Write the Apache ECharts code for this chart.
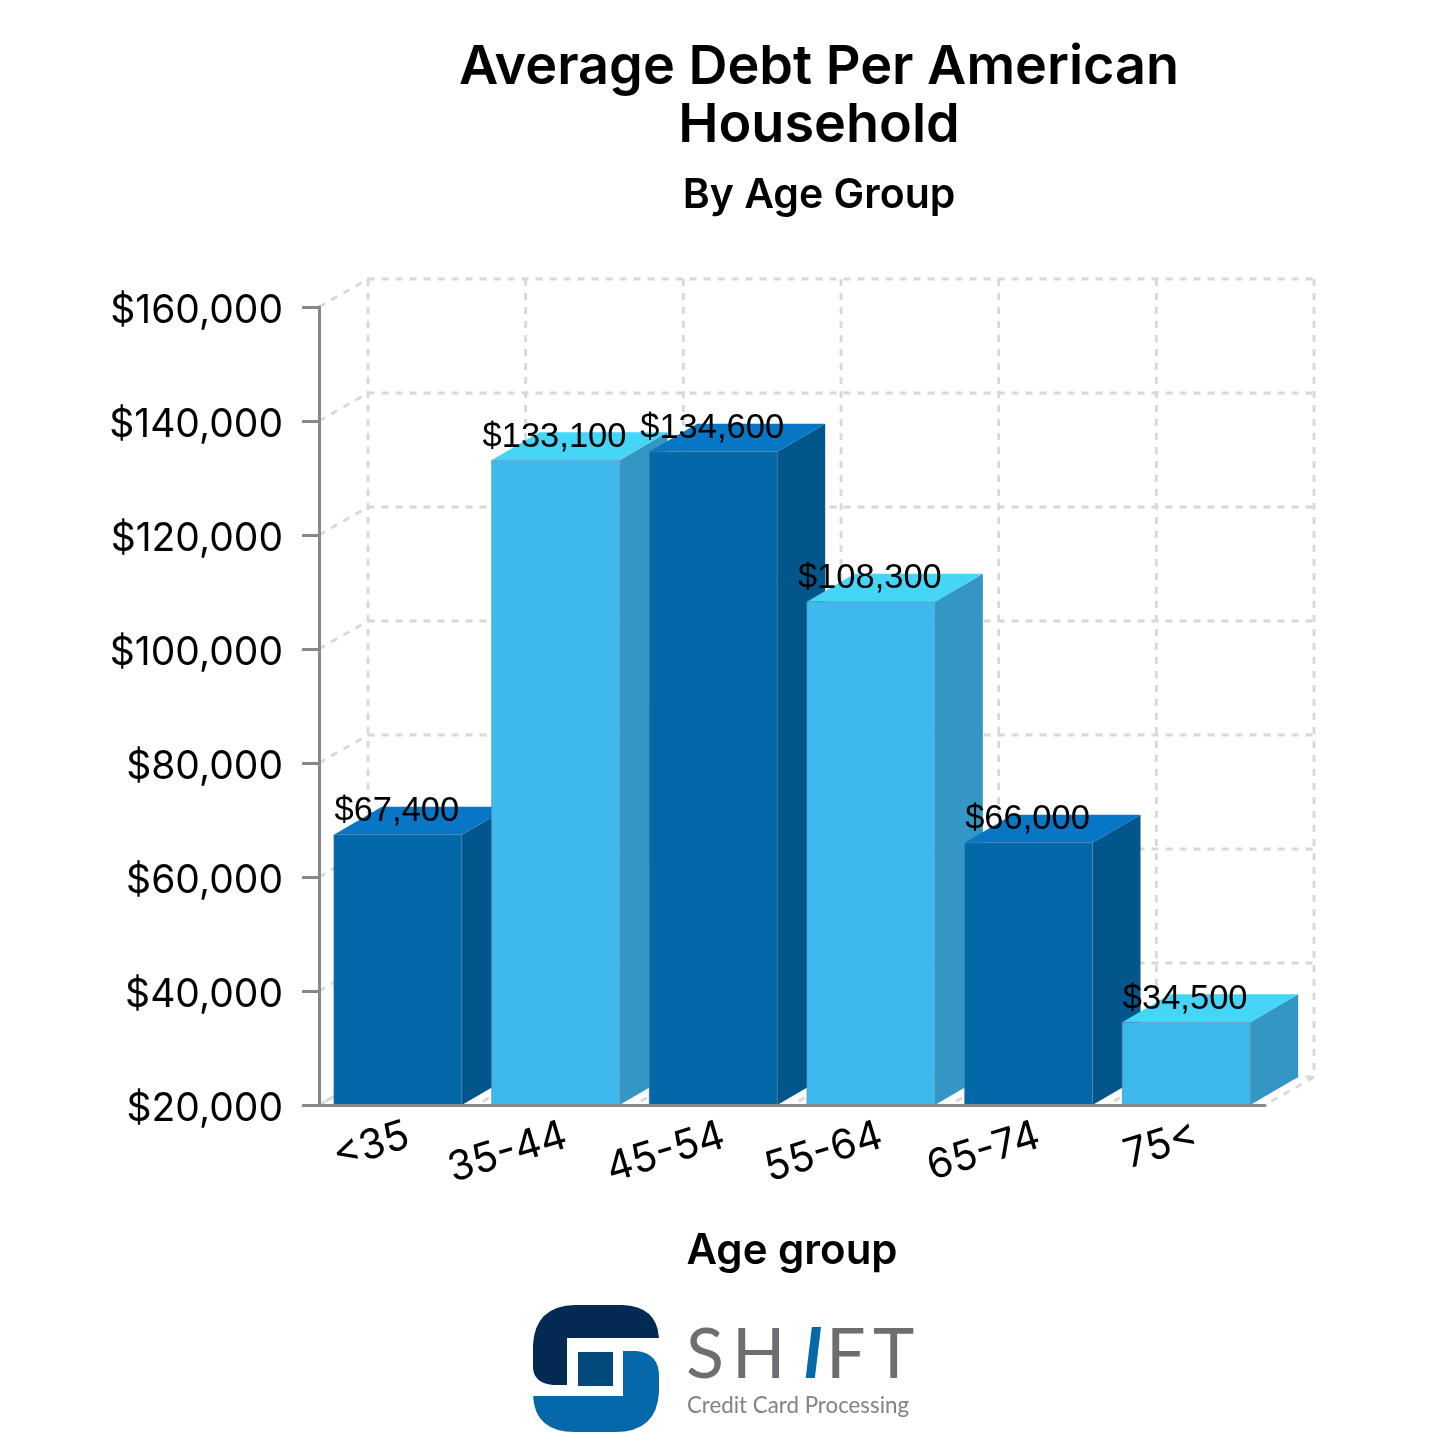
<!DOCTYPE html>
<html>
<head>
<meta charset="utf-8">
<style>html,body{margin:0;padding:0;background:#fff}#c{width:1445px;height:1445px}</style>
<script src="https://cdn.jsdelivr.net/npm/echarts@6/dist/echarts.min.js"></script>
</head>
<body>
<div id="c"></div>
<script>
const categories = ['<35', '35-44', '45-54', '55-64', '65-74', '75<'];
const debtValues = [67400, 133100, 134600, 108300, 66000, 34500];
const axisTicks = [20000, 40000, 60000, 80000, 100000, 120000, 140000, 160000];
const wallColumns = [0, 1, 2, 3, 4, 5, 6];

const DX = 48, DY = -28, WALL_DX = 49;
const palettes = [
  { front: '#0268a8', side: '#03568c', top: '#0776c4' },
  { front: '#3db9ed', side: '#3396c4', top: '#45d5f7' }
];
const money = v => '$' + Number(v).toLocaleString('en-US');
const FONT = 'Inter';
const wallStyle = { stroke: '#d8d8d8', lineWidth: 2.8, lineDash: [7, 7], fill: null };

function renderBar(params, api) {
  const i = api.value(0), v = api.value(1);
  const t = api.coord([i, v]), b = api.coord([i, axisTicks[0]]);
  const w = api.size([1, 0])[0] * 0.812;
  const l = t[0] - w / 2, r = t[0] + w / 2;
  const p = palettes[i % 2];
  return { type: 'group', children: [
    { type: 'polygon', shape: { points: [[r, t[1]], [r + DX, t[1] + DY], [r + DX, b[1] + DY], [r, b[1]]] }, style: { fill: p.side } },
    { type: 'polygon', shape: { points: [[l, t[1]], [l + DX, t[1] + DY], [r + DX, t[1] + DY], [r, t[1]]] }, style: { fill: p.top } },
    { type: 'rect', shape: { x: l, y: t[1], width: w, height: b[1] - t[1] }, style: { fill: p.front, stroke: 'rgba(110,130,145,0.45)', lineWidth: 1 } }
  ] };
}
function renderLabel(params, api) {
  const i = api.value(0), v = api.value(1);
  const t = api.coord([i, v]);
  return { type: 'text', style: { text: money(v), x: t[0] - 1, y: t[1] - 23, align: 'center', verticalAlign: 'middle',
    fill: '#000', font: '34.5px "Liberation Sans"' } };
}
function renderWallRow(params, api) {
  const c = params.coordSys, y = api.coord([0, api.value(1)])[1];
  return { type: 'polyline', shape: { points: [[c.x, y], [c.x + WALL_DX, y + DY], [c.x + c.width + WALL_DX, y + DY]] }, style: wallStyle };
}
function renderWallColumn(params, api) {
  const c = params.coordSys, x = c.x + api.value(0) * c.width / categories.length, bot = c.y + c.height;
  return { type: 'polyline', shape: { points: [[x + WALL_DX, c.y + DY], [x + WALL_DX, bot + DY], [x, bot]] }, style: wallStyle };
}

const blueShape = 'M533 1396 L623 1396 L623 1351 L636 1351 Q659 1353 659 1376 L659 1392 Q657 1432 615 1432 L575 1432 Q535 1432 533 1396 Z';
const darkShape = 'M575 1305 L622 1305 Q657 1306 659 1338 L567 1338 L567 1385 L553 1385 Q534 1383 533 1368 L533 1345 Q535 1306 575 1305 Z';
function renderLogo() {
  return { type: 'group', children: [
    { type: 'path', shape: { pathData: darkShape, x: 533, y: 1305, width: 126, height: 80, layout: 'cover' }, style: { fill: '#022a53' } },
    { type: 'path', shape: { pathData: blueShape, x: 533, y: 1351, width: 126, height: 81, layout: 'cover' }, style: { fill: '#0568a8' } },
    { type: 'rect', shape: { x: 578, y: 1352, width: 35, height: 34 }, style: { fill: '#034a7c' } }
  ] };
}
function logoLetter(text, x, fill, font) {
  return { type: 'text', x: x, y: 1355, style: { text: text, fill: fill, font: font || '400 70px Lato', textAlign: 'left', textVerticalAlign: 'middle' } };
}

const chart = echarts.init(document.getElementById('c'), null, { renderer: 'canvas' });
chart.setOption({
  animation: false,
  backgroundColor: '#fff',
  title: [
    { text: 'Average Debt Per American\nHousehold', left: 819, top: 39, padding: 0, textAlign: 'center',
      textStyle: { fontFamily: FONT, fontWeight: 600, fontSize: 54, lineHeight: 58, color: '#000' } },
    { text: 'By Age Group', left: 819, top: 175, padding: 0, textAlign: 'center',
      textStyle: { fontFamily: FONT, fontWeight: 600, fontSize: 41, color: '#000' } }
  ],
  grid: { left: 319, top: 307, width: 946, height: 798, containLabel: false },
  xAxis: {
    type: 'category', data: categories, z: 6,
    name: 'Age group', nameLocation: 'middle', nameGap: 125,
    nameTextStyle: { fontFamily: FONT, fontWeight: 600, fontSize: 42, color: '#000' },
    axisLine: { lineStyle: { color: '#888', width: 3 } },
    axisTick: { alignWithLabel: true, length: 14, lineStyle: { color: '#888', width: 2.5 } },
    axisLabel: { rotate: 17, interval: 0, margin: 33, padding: [0, -11, 0, 0], fontFamily: FONT, fontSize: 41, color: '#000' },
    splitLine: { show: false }
  },
  yAxis: {
    type: 'value', min: axisTicks[0], max: axisTicks[axisTicks.length - 1], interval: 20000, z: 6,
    axisLine: { show: true, lineStyle: { color: '#888', width: 3 } },
    axisTick: { show: true, length: 17, lineStyle: { color: '#888', width: 3 } },
    axisLabel: { formatter: money, margin: 36, verticalAlign: 'top', lineHeight: 9, fontFamily: FONT, fontSize: 39, color: '#000' },
    splitLine: { show: false }
  },
  series: [
    { type: 'custom', name: 'wall rows', z: 1, silent: true, clip: false, renderItem: renderWallRow,
      data: axisTicks.map(t => [0, t]), encode: { x: 0, y: 1 } },
    { type: 'custom', name: 'wall columns', z: 1, silent: true, clip: false, renderItem: renderWallColumn,
      data: wallColumns.map(i => [i, axisTicks[0]]), encode: { x: 0, y: 1 } },
    { type: 'custom', name: 'Average debt', z: 3, clip: false, renderItem: renderBar,
      data: debtValues.map((v, i) => [i, v]), encode: { x: 0, y: 1 } },
    { type: 'custom', name: 'labels', z: 8, silent: true, clip: false, renderItem: renderLabel,
      data: debtValues.map((v, i) => [i, v]), encode: { x: 0, y: 1 } },
    { type: 'custom', name: 'logo', z: 8, silent: true, clip: false, renderItem: renderLogo,
      data: [[0, axisTicks[0]]], encode: { x: 0, y: 1 } }
  ],
  graphic: [
    logoLetter('S', 686, '#6d6e71'),
    logoLetter('H', 732, '#6d6e71'),
    logoLetter('I', 803, '#0568a8', 'italic 700 70px Lato'),
    logoLetter('F', 826, '#6d6e71'),
    logoLetter('T', 873, '#6d6e71'),
    { type: 'text', x: 687, y: 1406, style: { text: 'Credit Card Processing', fill: '#808285', font: '22.3px Lato', textAlign: 'left', textVerticalAlign: 'middle' } }
  ]
});
</script>
</body>
</html>
